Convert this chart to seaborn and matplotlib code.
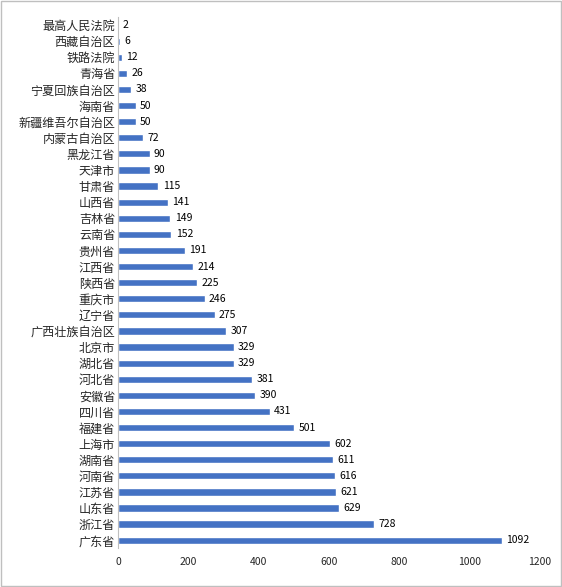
import matplotlib
matplotlib.use("Agg")
import matplotlib.pyplot as plt
import seaborn as sns
import pandas as pd
from matplotlib.patches import Rectangle

categories = ["最高人民法院","西藏自治区","铁路法院","青海省","宁夏回族自治区","海南省","新疆维吾尔自治区","内蒙古自治区",
              "黑龙江省","天津市","甘肃省","山西省","吉林省","云南省","贵州省","江西省","陕西省","重庆市","辽宁省",
              "广西壮族自治区","北京市","湖北省","河北省","安徽省","四川省","福建省","上海市","湖南省","河南省",
              "江苏省","山东省","浙江省","广东省"]
values = [2,6,12,26,38,50,50,72,90,90,115,141,149,152,191,214,225,246,275,307,329,329,381,390,431,501,602,611,616,621,629,728,1092]
xticks = [0,200,400,600,800,1000,1200]

sns.set_style("white")
plt.rcParams['font.family'] = ['Noto Sans CJK SC', 'DejaVu Sans']

df = pd.DataFrame({"cat": categories, "val": values})
fig = plt.figure(figsize=(5.62,5.87), dpi=100)
ax = fig.add_axes([0.21, 0.066, 0.751, 0.905])
sns.barplot(data=df, y="cat", x="val", color="#4472C4", width=0.45, ax=ax, saturation=1)
for i, v in enumerate(values):
    ax.text(v + 12, i, str(v), va="center", ha="left", fontsize=7.5, color="#000000")
ax.set_xlim(0, 1200)
ax.set_xticks(xticks)
ax.set_ylim(len(categories)-0.5, -0.5)
ax.set_xlabel("")
ax.set_ylabel("")
ax.tick_params(axis="x", labelsize=7.5, length=0, pad=6)
ax.tick_params(axis="y", labelsize=8.7, length=0, pad=2)
for s in ["top","right","bottom"]:
    ax.spines[s].set_visible(False)
ax.spines["left"].set_color("#bfbfbf")
fig.patches.append(Rectangle((0.002,0.002),0.996,0.996, transform=fig.transFigure, fill=False, edgecolor="#bfbfbf", lw=1))
fig.savefig("out.png", dpi=100)
